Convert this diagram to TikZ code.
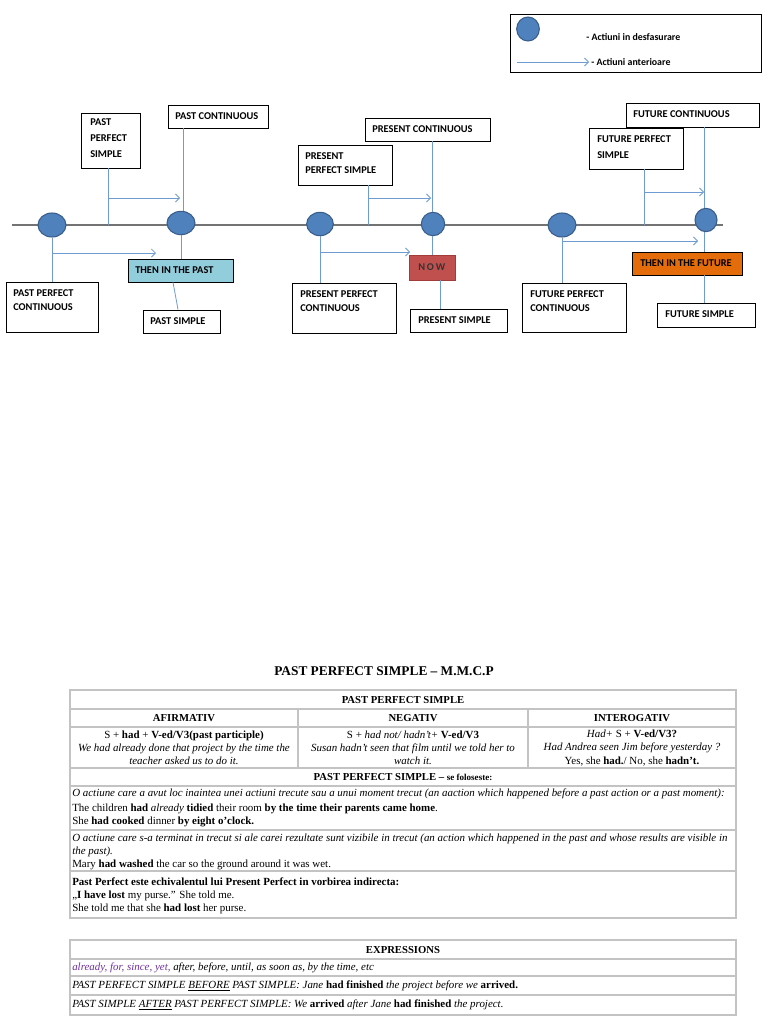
\documentclass[tikz,border=0pt]{standalone}
\usepackage{fontspec}
\setmainfont{Liberation Serif}
\newfontfamily\calibri{Carlito}
\usetikzlibrary{shapes.geometric,arrows.meta,fit,positioning}

\definecolor{evblue}{RGB}{79,129,189}
\definecolor{evedge}{RGB}{56,93,138}
\definecolor{linkblue}{RGB}{110,155,210}
\definecolor{pastfill}{RGB}{146,205,220}
\definecolor{nowfill}{RGB}{192,80,77}
\definecolor{nowedge}{RGB}{160,60,58}
\definecolor{futfill}{RGB}{228,108,10}
\definecolor{exprpurple}{RGB}{112,48,160}
\definecolor{rulegray}{RGB}{195,195,195}

\tikzset{
  ev/.style={ellipse, draw=evedge, fill=evblue, line width=0.8pt, inner sep=0pt,
    minimum width=21pt, minimum height=18pt},
  tensebox/.style={draw=black, line width=0.6pt, inner sep=0pt, fill=white},
  tenselbl/.style={font=\calibri\bfseries\fontsize{7.8}{10.5}\selectfont, inner sep=0pt,
    align=left, anchor=north west},
  legendlbl/.style={font=\calibri\bfseries\fontsize{7.4}{9}\selectfont, inner sep=0pt, anchor=west},
  conn/.style={draw=linkblue, line width=0.6pt},
  arr/.style={conn, -{Straight Barb[length=3pt, width=6pt]}},
  timeline/.style={draw=black!55, line width=1pt},
  cellrule/.style={draw=rulegray, line width=0.9pt},
  cell/.style={inner sep=0pt, font=\fontsize{8.2}{9.8}\selectfont},
  cellhead/.style={cell, font=\bfseries\fontsize{8}{9.8}\selectfont},
}

\begin{document}
\begin{tikzpicture}[x=0.75pt, y=-0.75pt]
\useasboundingbox[fill=white] (0,0) rectangle (768,1024);

% legend
\node[tensebox, fit={(510,14) (761,72)}] (legend) {};
\node[ev, minimum width=17pt, minimum height=18pt] (legev) at (528,29) {};
\node[legendlbl] (legevT) at (586,37) {- Actiuni in desfasurare};
\coordinate (legarr0) at (517,62);
\coordinate (legarr1) at (589,62);
\draw[arr] (legarr0) -- (legarr1);
\node[legendlbl] (legarrT) at (591,62) {- Actiuni anterioare};

% time line
\coordinate (tl0) at (12,225);
\coordinate (tl1) at (723,225);
\draw[timeline] (tl0) -- (tl1);

\node[ev] (e1) at (52,225) {};
\node[ev, minimum width=21pt, minimum height=17.5pt] (e2) at (181,223) {};
\node[ev, minimum width=20pt, minimum height=17.5pt] (e3) at (320,224) {};
\node[ev, minimum width=17.5pt, minimum height=17.5pt] (e4) at (433,224) {};
\node[ev] (e5) at (562,225) {};
\node[ev, minimum width=16.5pt, minimum height=17.5pt] (e6) at (706,220) {};

% past
\node[tensebox, fit={(81,113) (140,168)}] (pps) {};
\node[tenselbl] (ppsT) at (90,118) {PAST\\[1.5pt]PERFECT\\[1.5pt]SIMPLE};
\node[tensebox, fit={(168,105) (268,128)}] (pc) {};
\node[tenselbl] (pcT) at (175,112) {PAST CONTINUOUS};
\node[tensebox, fit={(6,282) (98,332)}] (ppc) {};
\node[tenselbl] (ppcT) at (13,289) {PAST PERFECT\\CONTINUOUS};
\node[tensebox, fill=pastfill, fit={(128,259) (233,282)}] (thenpast) {};
\node[tenselbl] (thenpastT) at (135,266) {THEN IN THE PAST};
\node[tensebox, fit={(143,310) (220,333)}] (ps) {};
\node[tenselbl] (psT) at (150,317) {PAST SIMPLE};

\coordinate (j1) at (108,225);
\coordinate (a1) at (180,198);
\coordinate (a2) at (156,253);
\draw[conn] (pps.south -| j1) -- (j1);
\draw[arr] (j1 |- a1) -- (a1);
\draw[conn] (e2.north -| 183,0) -- (pc.south -| 183,0);
\draw[conn] (e1.south) -- (e1.south |- ppc.north);
\draw[arr] (e1.south |- a2) -- (a2);
\draw[conn] (e2.south) -- (e2.south |- thenpast.north);
\draw[conn] ([xshift=-5.6pt]thenpast.south) -- ([xshift=-2.6pt]ps.north);

% present
\node[tensebox, fit={(298,145) (392,185)}] (prps) {};
\node[tenselbl] (prpsT) at (305,152) {PRESENT\\PERFECT SIMPLE};
\node[tensebox, fit={(365,118) (490,141)}] (prc) {};
\node[tenselbl] (prcT) at (372,125) {PRESENT CONTINUOUS};
\node[tensebox, fit={(292,283) (396,333)}] (prpc) {};
\node[tenselbl] (prpcT) at (300,290) {PRESENT PERFECT\\CONTINUOUS};
\node[draw=nowedge, fill=nowfill, line width=0.6pt, inner sep=0pt, fit={(409,255) (455,280)}] (now) {};
\node[tenselbl, text=black!80] (nowT) at (418,263) {\addfontfeature{LetterSpace=18}NOW};
\node[tensebox, fit={(410,309) (507,332)}] (prs) {};
\node[tenselbl] (prsT) at (418,316) {PRESENT SIMPLE};

\coordinate (j2) at (368,225);
\coordinate (a3) at (431,198);
\coordinate (a4) at (410,252);
\draw[conn] (prps.south -| j2) -- (j2);
\draw[arr] (j2 |- a3) -- (a3);
\draw[conn] (e4.north -| 432,0) -- (prc.south -| 432,0);
\draw[conn] (e3.south) -- (e3.south |- prpc.north);
\draw[arr] (e3.south |- a4) -- (a4);
\draw[conn] (e4.south -| 432,0) -- (now.north -| 432,0);
\draw[conn] (now.south -| 440,0) -- (prs.north -| 440,0);

% future
\node[tensebox, fit={(589,128) (683,169)}] (fps) {};
\node[tenselbl] (fpsT) at (597,135) {FUTURE PERFECT\\[1.5pt]SIMPLE};
\node[tensebox, fit={(626,103) (759,127)}] (fc) {};
\node[tenselbl] (fcT) at (633,110) {FUTURE CONTINUOUS};
\node[tensebox, fit={(522,283) (626,332)}] (fpc) {};
\node[tenselbl] (fpcT) at (530,290) {FUTURE PERFECT\\CONTINUOUS};
\node[tensebox, fill=futfill, fit={(632,252) (742,275)}] (thenfut) {};
\node[tenselbl] (thenfutT) at (640,259) {THEN IN THE FUTURE};
\node[tensebox, fit={(657,303) (755,327)}] (fs) {};
\node[tenselbl] (fsT) at (665,310) {FUTURE SIMPLE};

\coordinate (j3) at (644,225);
\coordinate (a5) at (704,192);
\coordinate (a6) at (698,241);
\draw[conn] (fps.south -| j3) -- (j3);
\draw[arr] (j3 |- a5) -- (a5);
\draw[conn] (e6.north -| 704,0) -- (fc.south -| 704,0);
\draw[conn] (e5.south) -- (e5.south |- fpc.north);
\draw[arr] (e5.south |- a6) -- (a6);
\draw[conn] (e6.south -| 704,0) -- (thenfut.north -| 704,0);
\draw[conn] (thenfut.south -| 704,0) -- (fs.north -| 704,0);

% table
\node[font=\bfseries\fontsize{10}{12}\selectfont, inner sep=0pt] (title) at (384,671) {PAST PERFECT SIMPLE – M.M.C.P};

\draw[cellrule] (70,690) rectangle (736,918);
\foreach \ry in {709,727,768,786,830,871}
  \draw[cellrule] (70,\ry) -- (736,\ry);
\draw[cellrule] (298,709) -- (298,768);
\draw[cellrule] (528,709) -- (528,768);

\node[cellhead] (hd) at (403,700) {PAST PERFECT SIMPLE};
\node[cellhead] (hdaf) at (184,718) {AFIRMATIV};
\node[cellhead] (hdneg) at (413,718) {NEGATIV};
\node[cellhead] (hdint) at (632,718) {INTEROGATIV};
\node[cell, align=center] (caf) at (184,748)
  {S + \textbf{had} + \textbf{V-ed/V3(past participle)}\\
   \textit{We had already done that project by the time the}\\
   \textit{teacher asked us to do it.}};
\node[cell, align=center] (cneg) at (413,748)
  {S + \textit{had not/ hadn't+} \textbf{V-ed/V3}\\
   \textit{Susan hadn't seen that film until we told her to}\\
   \textit{watch it.}};
\node[cell, align=center] (cint) at (632,748)
  {\textit{Had+} S + \textbf{V-ed/V3?}\\
   \textit{Had Andrea seen Jim before yesterday ?}\\
   Yes, she \textbf{had.}/ No, she \textbf{hadn't.}};
\node[cellhead] (use) at (403,777) {PAST PERFECT SIMPLE – {\fontsize{6.8}{8}\selectfont se foloseste:}};
\node[cell, align=left, anchor=west] (use1) at (72,808)
  {\textit{O actiune care a avut loc inaintea unei actiuni trecute sau a unui moment trecut (an aaction which happened before a past action or a past moment):}\\[1pt]
   The children \textbf{had} \textit{already} \textbf{tidied} their room \textbf{by the time their parents came home}.\\
   She \textbf{had cooked} dinner \textbf{by eight o'clock.}};
\node[cell, align=left, anchor=west] (use2) at (72,852)
  {\textit{O actiune care s-a terminat in trecut si ale carei rezultate sunt vizibile in trecut (an action which happened in the past and whose results are visible in}\\
   \textit{the past).}\\
   Mary \textbf{had washed} the car so the ground around it was wet.};
\node[cell, align=left, anchor=west] (use3) at (72,896)
  {\textbf{Past Perfect este echivalentul lui Present Perfect in vorbirea indirecta:}\\
   „\textbf{I have lost} my purse.” She told me.\\
   She told me that she \textbf{had lost} her purse.};

\draw[cellrule] (70,940) rectangle (736,1015);
\foreach \ry in {959,976,995}
  \draw[cellrule] (70,\ry) -- (736,\ry);
\node[cellhead] (expr) at (403,950) {EXPRESSIONS};
\node[cell, anchor=west] (expr1) at (72,968)
  {\textit{\textcolor{exprpurple}{already, for, since, yet,} after, before, until, as soon as, by the time, etc}};
\node[cell, anchor=west] (expr2) at (72,986)
  {\textit{PAST PERFECT SIMPLE \underline{BEFORE} PAST SIMPLE: Jane} \textbf{had finished} \textit{the project before we} \textbf{arrived.}};
\node[cell, anchor=west] (expr3) at (72,1005)
  {\textit{PAST SIMPLE \underline{AFTER} PAST PERFECT SIMPLE: We} \textbf{arrived} \textit{after Jane} \textbf{had finished} \textit{the project.}};
\end{tikzpicture}
\end{document}
